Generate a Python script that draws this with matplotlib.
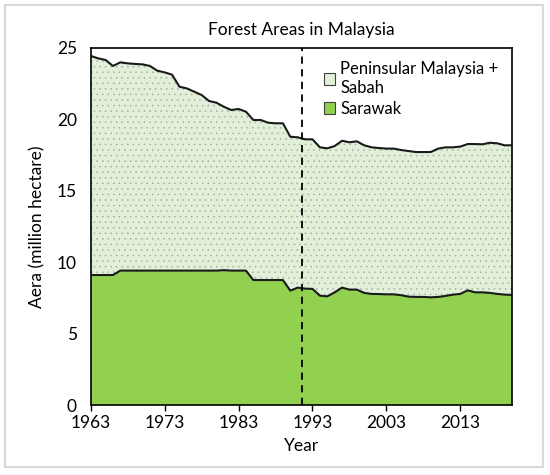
import matplotlib.pyplot as plt
from matplotlib.patches import Rectangle, Patch

plt.rcParams['font.family'] = ['Lato', 'DejaVu Sans']
plt.rcParams['hatch.linewidth'] = 0.3

years = list(range(1963, 2021))

sarawak = [9.11, 9.11, 9.11, 9.11, 9.42, 9.42, 9.42, 9.42, 9.42, 9.42,
           9.42, 9.42, 9.42, 9.42, 9.42, 9.42, 9.42, 9.42, 9.45, 9.42,
           9.42, 9.42, 8.76, 8.76, 8.76, 8.76, 8.76, 8.02, 8.23, 8.16,
           8.14, 7.67, 7.62, 7.90, 8.23, 8.09, 8.09, 7.86, 7.79, 7.78,
           7.76, 7.76, 7.70, 7.60, 7.58, 7.58, 7.55, 7.58, 7.65, 7.74,
           7.79, 8.04, 7.90, 7.90, 7.86, 7.79, 7.74, 7.72]

peninsular_sabah = [15.32, 15.15, 15.04, 14.62, 14.56, 14.49, 14.45, 14.42, 14.31, 13.98,
                    13.86, 13.70, 12.86, 12.74, 12.51, 12.28, 11.86, 11.74, 11.43, 11.23,
                    11.30, 11.11, 11.19, 11.19, 11.00, 10.96, 10.96, 10.76, 10.51, 10.44,
                    10.46, 10.37, 10.35, 10.23, 10.27, 10.30, 10.37, 10.32, 10.25, 10.21,
                    10.19, 10.19, 10.15, 10.18, 10.13, 10.13, 10.16, 10.37, 10.39, 10.30,
                    10.30, 10.23, 10.37, 10.35, 10.50, 10.53, 10.44, 10.46]

policy_year = 1991.6
xtick_years = [1963, 1973, 1983, 1993, 2003, 2013]

total = [s + p for s, p in zip(sarawak, peninsular_sabah)]

fig = plt.figure(figsize=(5.5, 4.75), dpi=100)
ax = fig.add_axes([0.165, 0.1467, 0.766, 0.7527])

# light green area with small dots
ax.fill_between(years, sarawak, total, facecolor='#e2f0d9', edgecolor='none')
ax.fill_between(years, sarawak, total, facecolor='none', edgecolor='#9aa596',
                hatch='...', linewidth=0)
ax.fill_between(years, 0, sarawak, facecolor='#92d050', edgecolor='none')
ax.plot(years, total, color='#1a1a1a', lw=1.5)
ax.plot(years, sarawak, color='#1a1a1a', lw=1.5)

ax.axvline(policy_year, color='black', linestyle='--', lw=1.3, dashes=(4, 3))

ax.set_xlim(1963, 2020)
ax.set_ylim(0, 25)
ax.set_xticks(xtick_years)
ax.set_yticks([0, 5, 10, 15, 20, 25])
ax.tick_params(axis='x', direction='out', length=4, width=1, labelsize=12.5, pad=3)
ax.tick_params(axis='y', length=0, labelsize=12.5, pad=10)
for sp in ax.spines.values():
    sp.set_color('black')
    sp.set_linewidth(1.2)

ax.set_title('Forest Areas in Malaysia', fontsize=12.5, pad=9)
ax.set_xlabel('Year', fontsize=12.5, labelpad=5)
ax.set_ylabel('Aera (million hectare)', fontsize=12.5, labelpad=8)

handles = [Patch(facecolor='#e2f0d9', edgecolor='#404040', lw=0.8),
           Patch(facecolor='#92d050', edgecolor='#404040', lw=0.8)]
ax.legend(handles, ['Peninsular Malaysia +\nSabah', 'Sarawak'], loc='upper right',
          frameon=False, fontsize=12, handlelength=0.7, handleheight=0.7,
          handletextpad=0.3, borderaxespad=0.4, labelspacing=0.3)

fig.patches.append(Rectangle((5 / 550, 8 / 475), 538 / 550, 462 / 475,
                             transform=fig.transFigure, facecolor='none',
                             edgecolor='#d9d9d9', lw=1.5))

fig.savefig('out.png', dpi=100)
